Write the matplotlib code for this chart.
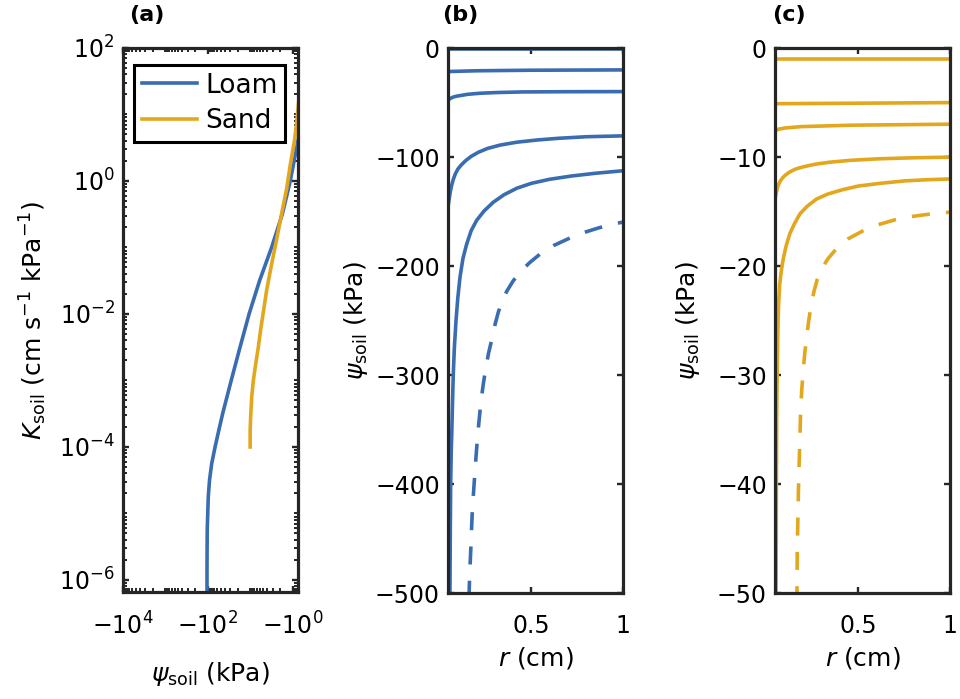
import numpy as np
import matplotlib
matplotlib.use('Agg')
import matplotlib.pyplot as plt
from matplotlib.ticker import LogLocator, NullFormatter

plt.rcParams['font.family'] = ['DejaVu Sans']
plt.rcParams['mathtext.fontset'] = 'dejavusans'

# (a) conductivity curves, psi in kPa (negative), K in cm s-1 kPa-1
loam_psi = [-104.7, -104.7, -103.5, -97.7, -91.2, -81.3, -67.6, -55.0, -44.7, -28.2, -17.4,
            -10.7, -6.03, -3.16, -1.76, -1.15, -0.98, -0.81, -0.72]
loam_K = [4.0e-7, 1.6e-6, 5.6e-6, 1.8e-5, 3.2e-5, 5.6e-5, 1.0e-4, 1.8e-4, 3.2e-4, 1.0e-3, 3.2e-3,
          1.0e-2, 3.2e-2, 0.10, 0.32, 1.0, 1.7, 3.2, 4.8]
sand_psi = [-10.1, -10.1, -9.75, -9.25, -8.5, -7.45, -6.48, -5.70, -4.12, -3.16, -2.40, -1.84,
            -1.40, -1.14, -0.90, -0.81, -0.75, -0.68]
sand_K = [1.0e-4, 1.8e-4, 3.2e-4, 5.8e-4, 1.0e-3, 1.8e-3, 3.2e-3, 5.9e-3, 2.3e-2, 5.6e-2, 0.133, 0.32,
          0.76, 1.8, 4.3, 7.9, 12.9, 25]

# (b) loam profiles psi(r)
b_r = [
    [0.045, 1.0],
    [0.045, 0.2, 0.5, 1.0],
    [0.045, 0.055, 0.07, 0.09, 0.109, 0.15, 0.219, 0.32, 0.456, 0.7, 1.0],
    [0.045, 0.050, 0.056, 0.063, 0.072, 0.083, 0.097, 0.115, 0.14, 0.17, 0.21, 0.26, 0.33,
     0.42, 0.53, 0.65, 0.8, 1.0],
    [0.053, 0.054, 0.056, 0.058, 0.061, 0.064, 0.068, 0.072, 0.078, 0.087, 0.097, 0.109, 0.125,
     0.145, 0.17, 0.2, 0.24, 0.29, 0.35, 0.42, 0.5, 0.6, 0.72, 0.85, 1.0],
]
b_psi = [
    [-1.0, -1.0],
    [-21.5, -20.8, -20.3, -20.0],
    [-47.5, -46.3, -45.0, -44.1, -43.6, -42.4, -41.4, -40.7, -40.2, -40.0, -39.9],
    [-143.7, -138, -131.5, -126, -120.5, -115.5, -111, -107.3, -103.2, -99.3, -95.5, -92, -88.9,
     -86.3, -84.3, -82.7, -81.3, -80.5],
    [-505, -496, -440, -398.5, -370, -352.7, -325, -300, -275, -250, -229, -210, -193,
     -180, -167.5, -158, -149.5, -141.5, -134.5, -128.5, -124, -120.3, -117.3, -114.8, -112.5],
]
b_dash_r = [0.158, 0.160, 0.164, 0.168, 0.172, 0.176, 0.182, 0.188, 0.196, 0.204, 0.212, 0.222,
            0.234, 0.248, 0.265, 0.283, 0.30, 0.319, 0.34, 0.365, 0.40, 0.44, 0.49, 0.55, 0.62,
            0.70, 0.78, 0.87, 0.95, 1.0]
b_dash_psi = [-505, -493, -475, -459.6, -442, -426, -410, -395.5, -376, -359, -344, -327,
              -311, -295.5, -280, -267.3, -254, -242, -232, -223, -213.5, -205, -196.8, -188.5, -181.2,
              -175, -169.5, -164.8, -161.3, -159.6]

# (c) sand profiles psi(r)
c_r = [
    [0.045, 1.0],
    [0.045, 1.0],
    [0.045, 0.06, 0.096, 0.187, 0.461, 1.0],
    [0.045, 0.050, 0.056, 0.063, 0.072, 0.085, 0.1, 0.125, 0.155, 0.2, 0.26, 0.34, 0.45,
     0.6, 0.8, 1.0],
    [0.049, 0.050, 0.051, 0.053, 0.056, 0.060, 0.064, 0.069, 0.078, 0.09, 0.105, 0.125, 0.15,
     0.18, 0.22, 0.27, 0.33, 0.41, 0.5, 0.62, 0.76, 0.88, 1.0],
]
c_psi = [
    [-1.0, -1.0],
    [-5.1, -5.0],
    [-7.56, -7.45, -7.33, -7.2, -7.07, -6.98],
    [-13.75, -13.3, -12.9, -12.5, -12.2, -11.9, -11.65, -11.35, -11.1, -10.88, -10.66, -10.47,
     -10.3, -10.16, -10.06, -10.0],
    [-51, -46, -40, -33, -29.2, -25.2, -23.2, -21.7, -20.4, -19.2, -18.1, -17.0, -16.1,
     -15.2, -14.5, -13.85, -13.4, -13.0, -12.65, -12.4, -12.17, -12.07, -12.0],
]
c_dash_r = [0.163, 0.164, 0.165, 0.167, 0.169, 0.173, 0.179, 0.184, 0.19, 0.197, 0.205, 0.215,
            0.228, 0.242, 0.257, 0.275, 0.3, 0.334, 0.38, 0.443, 0.52, 0.607, 0.7, 0.79, 0.9, 1.0]
c_dash_psi = [-51, -49.6, -46.3, -44.5, -42.9, -39.5, -36.2, -33.1, -31.3, -29.8, -28.2, -26.7,
              -25.0, -23.5, -22.3, -21.2, -20.2, -19.3, -18.4, -17.5, -16.8, -16.2, -15.75, -15.45,
              -15.2, -15.05]

BLUE = '#3A6CB2'
GOLD = '#E3A71E'
AXC = '#262626'
LW = 2.6
DASH = (0, (5, 4.5))
TICK_FS = 17
LABEL_FS = 18


def style_axes(ax):
    for sp in ax.spines.values():
        sp.set_linewidth(2.3)
        sp.set_color(AXC)
    ax.tick_params(which='both', direction='in', top=True, right=True,
                   colors=AXC, labelcolor='black', labelsize=TICK_FS)
    ax.tick_params(which='major', length=4.5, width=1.7)
    ax.tick_params(which='minor', length=3.2, width=1.4)
    ax.tick_params(axis='x', pad=15)
    ax.tick_params(axis='y', pad=6)


fig = plt.figure(figsize=(9.6, 6.99), dpi=100)
ax_a = fig.add_axes([0.128, 0.1531, 0.1823, 0.7783])
ax_b = fig.add_axes([0.467, 0.1512, 0.1817, 0.780])
ax_c = fig.add_axes([0.8076, 0.1512, 0.1817, 0.780])

# panel (a)
ax_a.plot(-np.array(loam_psi), loam_K, color=BLUE, lw=LW, label='Loam')
ax_a.plot(-np.array(sand_psi), sand_K, color=GOLD, lw=LW, label='Sand')
ax_a.set_xscale('log')
ax_a.set_yscale('log')
ax_a.set_xlim(1e4, 0.76)
ax_a.set_ylim(6.6e-7, 1e2)
ax_a.set_xticks([1e4, 1e2, 1e0], labels=[r'$-10^{4}$', r'$-10^{2}$', r'$-10^{0}$'])
ax_a.set_yticks([1e-6, 1e-4, 1e-2, 1e0, 1e2],
                labels=[r'$10^{-6}$', r'$10^{-4}$', r'$10^{-2}$', r'$10^{0}$', r'$10^{2}$'])
ax_a.xaxis.set_minor_locator(LogLocator(base=10, subs=np.arange(1, 10), numticks=50))
ax_a.yaxis.set_minor_locator(LogLocator(base=10, subs=np.arange(1, 10), numticks=50))
ax_a.xaxis.set_minor_formatter(NullFormatter())
ax_a.yaxis.set_minor_formatter(NullFormatter())
style_axes(ax_a)
ax_a.set_xlabel(r'$\psi_{\rm soil}$ (kPa)', fontsize=LABEL_FS)
ax_a.set_ylabel(r'$K_{\rm soil}$ (cm s$^{-1}$ kPa$^{-1}$)', fontsize=LABEL_FS)
ax_a.xaxis.set_label_coords(0.5, -0.125)
ax_a.yaxis.set_label_coords(-0.42, 0.5)
leg = ax_a.legend(loc='upper left', bbox_to_anchor=(0.063, 0.969), borderaxespad=0,
                  fancybox=False, edgecolor='black', framealpha=1, fontsize=19,
                  handlelength=2.1, handletextpad=0.3, borderpad=0.3, labelspacing=0.35)
leg.get_frame().set_linewidth(2.2)

# panel (b)
for r, p in zip(b_r, b_psi):
    ax_b.plot(r, p, color=BLUE, lw=LW)
ax_b.plot(b_dash_r, b_dash_psi, color=BLUE, lw=LW, linestyle=DASH)
ax_b.set_xlim(0.045, 1)
ax_b.set_ylim(-500, 0)
ax_b.set_xticks([0.5, 1], labels=['0.5', '1'])
ax_b.set_yticks([-500, -400, -300, -200, -100, 0])
style_axes(ax_b)
ax_b.set_xlabel(r'$r$ (cm)', fontsize=LABEL_FS)
ax_b.set_ylabel(r'$\psi_{\rm soil}$ (kPa)', fontsize=LABEL_FS)
ax_b.xaxis.set_label_coords(0.5, -0.095)
ax_b.yaxis.set_label_coords(-0.45, 0.5)

# panel (c)
for r, p in zip(c_r, c_psi):
    ax_c.plot(r, p, color=GOLD, lw=LW)
ax_c.plot(c_dash_r, c_dash_psi, color=GOLD, lw=LW, linestyle=DASH)
ax_c.set_xlim(0.045, 1)
ax_c.set_ylim(-50, 0)
ax_c.set_xticks([0.5, 1], labels=['0.5', '1'])
ax_c.set_yticks([-50, -40, -30, -20, -10, 0])
style_axes(ax_c)
ax_c.set_xlabel(r'$r$ (cm)', fontsize=LABEL_FS)
ax_c.set_ylabel(r'$\psi_{\rm soil}$ (kPa)', fontsize=LABEL_FS)
ax_c.xaxis.set_label_coords(0.5, -0.095)
ax_c.yaxis.set_label_coords(-0.42, 0.5)

for ax, tag, x in [(ax_a, '(a)', 0.137), (ax_b, '(b)', 0.067), (ax_c, '(c)', 0.079)]:
    ax.text(x, 1.061, tag, transform=ax.transAxes, ha='center', va='center',
            fontsize=16, fontweight='bold')

fig.savefig('out.png', dpi=100)
